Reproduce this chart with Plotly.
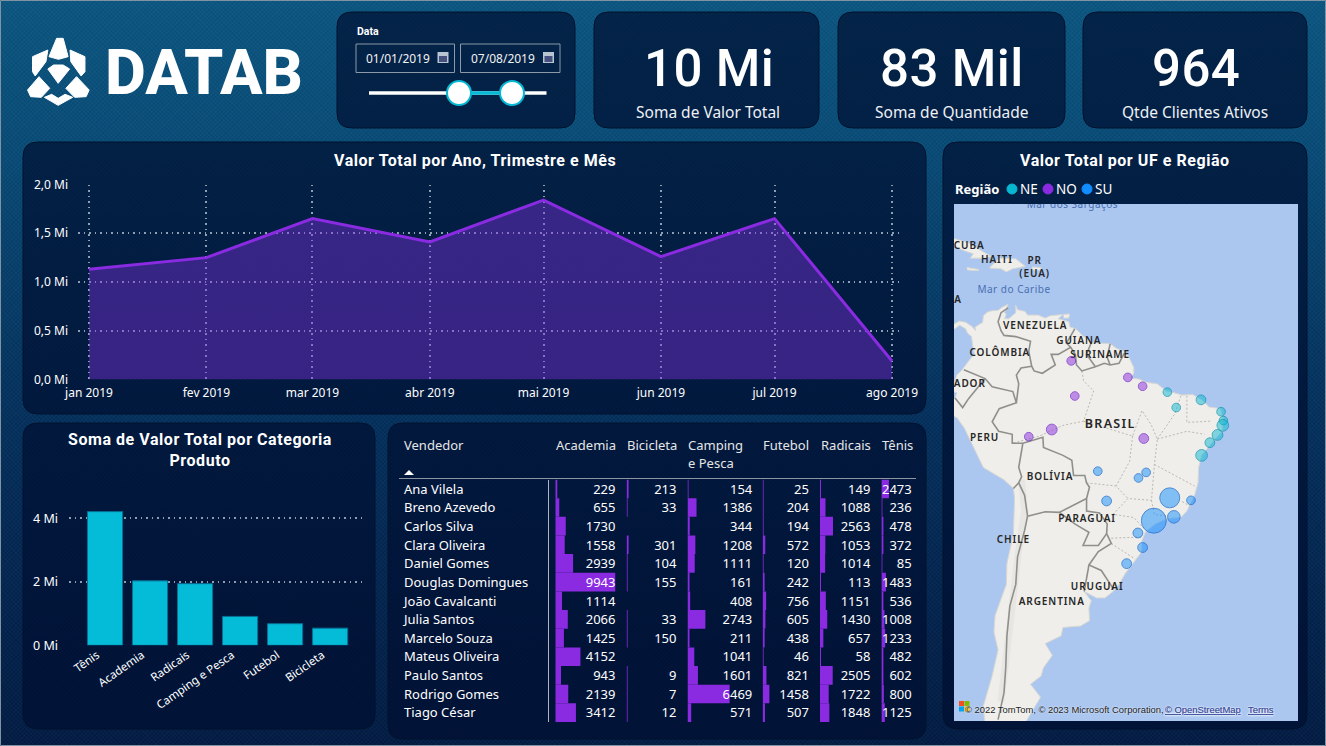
import numpy as np
import plotly.graph_objects as go

W, H = 1326, 746
DIN = "Roboto"
BODY = "Noto Sans"

# ---- data ----
month_dates = ["2019-01-01", "2019-02-01", "2019-03-01", "2019-04-01", "2019-05-01", "2019-06-01", "2019-07-01", "2019-08-01"]
month_labels = ["jan 2019", "fev 2019", "mar 2019", "abr 2019", "mai 2019", "jun 2019", "jul 2019", "ago 2019"]
month_values = [1.13, 1.25, 1.65, 1.41, 1.84, 1.26, 1.65, 0.19]

categories = ["Tênis", "Academia", "Radicais", "Camping e Pesca", "Futebol", "Bicicleta"]
category_values = [4.21, 2.03, 1.94, 0.91, 0.68, 0.54]

vendors = ["Ana Vilela", "Breno Azevedo", "Carlos Silva", "Clara Oliveira", "Daniel Gomes", "Douglas Domingues",
           "João Cavalcanti", "Julia Santos", "Marcelo Souza", "Mateus Oliveira", "Paulo Santos", "Rodrigo Gomes", "Tiago César"]
academia = [229, 655, 1730, 1558, 2939, 9943, 1114, 2066, 1425, 4152, 943, 2139, 3412]
bicicleta = [213, 33, None, 301, 104, 155, None, 33, 150, None, 9, 7, 12]
camping = [154, 1386, 344, 1208, 1111, 161, 408, 2743, 211, 1041, 1601, 6469, 571]
futebol = [25, 204, 194, 572, 120, 242, 756, 605, 438, 46, 821, 1458, 507]
radicais = [149, 1088, 2563, 1053, 1014, 113, 1151, 1430, 657, 58, 2505, 1722, 1848]
tenis = [2473, 236, 478, 372, 85, 1483, 536, 1008, 1233, 482, 602, 800, 1125]
table_max = 9943

no_lon = [-60.6, -51.0, -48.5, -60.0, -63.9, -67.8, -48.3]
no_lat = [2.9, 0.1, -1.4, -3.05, -8.7, -9.9, -10.2]
no_val = [360, 360, 360, 360, 560, 360, 460]
ne_lon = [-44.3, -38.6, -42.8, -35.2, -34.8, -34.9, -35.8, -37.1, -38.5]
ne_lat = [-2.4, -3.7, -5.0, -5.7, -7.2, -8.0, -9.6, -10.9, -13.0]
ne_val = [360, 460, 360, 360, 360, 660, 560, 460, 660]
su_lon = [-56.1, -49.2, -47.9, -54.6, -43.9, -40.3, -43.2, -46.6, -49.3, -48.5, -51.2]
su_lat = [-15.6, -16.7, -15.8, -20.4, -19.9, -20.3, -22.9, -23.5, -25.4, -27.6, -30.0]
su_val = [360, 360, 360, 460, 1920, 360, 760, 3000, 460, 460, 460]

# map outlines, lon / lat
land_lon = [-80.5, -79.5, -78.5, -77.4, -76.8, -76.9, -75.6, -75.5, -74.8, -74.2, -73, -72.3, -71.3, -71.6, -71.9, -71.6, -71.9, -71.2, -70.0, -70, -69.7, -68.4, -68, -66.2, -65, -64.2, -62, -62.8, -61, -60.8, -59.8, -58.5, -58, -57.2, -55.9, -54, -52.9, -51.8, -51, -50, -50, -50.5, -49, -48, -46, -44.5, -43.5, -41.8, -40, -38.5, -37.2, -35.3, -34.8, -35, -36.4, -37.3, -38.5, -39, -39.1, -39.7, -40.5, -41, -42, -43.5, -44.7, -46.3, -48, -48.6, -48.7, -50, -51.5, -52.5, -53.5, -54.9, -56.3, -58.4, -57.2, -57.6, -57.5, -59, -62, -62.3, -65, -63.8, -65.3, -65.7, -67.5, -65.8, -67.5, -69, -68.5, -70, -75, -75.5, -74, -73, -73.7, -73.5, -71.6, -71.5, -70.4, -70.2, -70.4, -72, -75.5, -77, -78.7, -79.9, -81.2, -81.3, -80.3, -80, -81, -80.5, -80, -79, -78.8, -77.5, -77, -77.3, -77.5, -78.2, -78.5, -79.5, -80.5, None,
            -80.5, -78, -75.5, -74.2, -75, -77.7, -77.2, -78.5, -80.5, None,
            -78.3, -76.3, -76.3, -78.2, None,
            -74.4, -72.8, -70, -68.4, -70.5, -71.6, -72.5, -74.4, None,
            -67.2, -65.7, -65.8, -67.2, None,
            -61.9, -60.9, -61, -61.9]
land_lat = [9.1, 9.6, 9.4, 8.7, 8.0, 8.6, 9.4, 10.5, 11.1, 11.3, 11.4, 11.9, 12.4, 11.6, 11.0, 10.8, 10.0, 10.0, 11.0, 12.2, 11.5, 11.2, 10.6, 10.6, 10.1, 10.5, 10.7, 10.0, 9.5, 8.6, 8.3, 7.0, 6.8, 6.0, 5.9, 5.8, 5.0, 4.6, 3.9, 1.8, 0.8, 0, -0.2, -0.7, -1.0, -2.2, -2.4, -2.9, -2.8, -3.7, -4.9, -5.2, -7, -9, -10.5, -11.5, -13, -15, -17.5, -19.5, -21.2, -22, -23, -23.1, -23.3, -24, -25.2, -26.5, -28.3, -29.8, -31.5, -33, -34, -34.9, -34.9, -34, -35.3, -36.3, -38, -38.7, -38.9, -40, -41, -42.5, -44, -45, -46, -47.5, -49.3, -51, -52.5, -53, -52, -48.5, -45, -41.8, -39.5, -37.3, -33, -30, -25.5, -20, -18.4, -17, -15, -12, -8.5, -6.8, -6, -4.5, -3.4, -2.5, -2.2, -1, 0.5, 1.5, 1.8, 3.5, 4, 5.5, 7, 7.6, 8.3, 8.9, 8.2, None,
            23, 22.3, 20.9, 20.2, 19.9, 19.9, 20.6, 21, 21.8, None,
            18.4, 18.1, 17.9, 18.0, None,
            18.4, 19.9, 19.8, 18.6, 18.2, 17.7, 18.2, 18.3, None,
            18.5, 18.4, 18, 18, None,
            10.7, 10.8, 10.1, 10.1]
border_lon = [-71.3, -72.5, -73, -72.5, -72, -70, -67.5, -67.8, -67.3, -66.9, -65.5, -64, -63.3, -64, -62.8, -60.7, -59.9, -59.7, -58.8, -56.5, -55, -54, -52.5, -51.6, None,
              -60.7, -61.4, -60, None, -57.2, -58, -56.5, None, -54, -54.5, -54, None,
              -78.8, -75.2, -74, -70.5, -69.9, -72.8, -74, -72.9, -70.6, -70.6, -68.8, -65.4, -65.3, -62, -60.5, -60.2, -58.3, -58, -57.5, -58, -58, -55.8, -54.5, -54.6, -53.8, -56, -57.6, -55.5, -53.4, None,
              -69.9, -69.5, -69.9, -69.1, -67.3, None,
              -80.3, -79, -78, -75.2, None,
              -68.8, -69.5, -69, -69.5, -70.4, None, -69.5, -68.5, -68, None,
              -58, -62.6, -60, -57.6, -58.6, -56, -54.6, None, -68, -65, -62.6, None,
              -68, -68.5, -69.7, -70, -71, -71.5, -71.7, -72, -73, None, -57.6, -58.2, -58.4]
border_lat = [11.8, 11, 9.5, 8, 7.2, 7, 6.2, 4.5, 2, 1.2, 0.8, 1.8, 2.2, 4, 4, 5.2, 4, 2.2, 1.2, 1.9, 2.5, 2.2, 2.5, 4.2, None,
              5.2, 5.9, 8.3, None, 6, 4, 1.9, None, 5.8, 3.5, 2.2, None,
              1.4, -0.1, -1.5, -2.3, -4.2, -5.2, -7.4, -9, -9.5, -11, -11, -10, -11.7, -13, -13.8, -16.3, -16.3, -17.5, -18.2, -20, -22, -22.3, -24, -25.5, -27, -28.2, -30.2, -31, -33.7, None,
              -4.2, -1, 0.5, 1.7, 2, None,
              -3.4, -5, -3.5, -0.1, None,
              -11, -15, -16.5, -17.5, -18.4, None, -17.5, -19.5, -22.8, None,
              -20, -22.2, -24, -25.3, -27.3, -27.3, -25.5, None, -22.8, -22.1, -22.2, None,
              -22.8, -25, -29, -33, -36, -40, -44, -47, -50, None, -30.2, -33.5, -34]
state_lon = [-58.8, -58.5, -56.8, -58.5, -62, -66, -70.6, None, -58.5, -50.2, -48.6, -47, -46, -46.5, -47, -51, -53.5, -50, -48.3, None,
             -50.2, -50.7, -53, -51, None, -58, -53, None, -47, -46.5, -44.5, None, -53.8, -48.6, None, -53.8, -49.8, None,
             -46.5, -39.7, None, -42, -43, -46, None, -41, -41, -37, None, -46, -41, -38, None, -41.8, -40.5, None]
state_lat = [1.2, -0.5, -2.2, -7.3, -8, -9.8, -11, None, -7.3, -9.8, -5.5, -8, -10.3, -14.5, -20.3, -20, -22.5, -23, -24.7, None,
             -9.8, -14, -18, -20, None, -17.5, -18, None, -20.3, -22.5, -22.8, None, -26.2, -26, None, -27, -29.3, None,
             -14.5, -18, None, -3, -6, -10.3, None, -3, -7.5, -7.3, None, -10.3, -9, -9.5, None, -20.5, -21.2, None]
# relief along the cordillera
andes_lon = [-69, -68.5, -69.5, -70.2, -70.8, -71.5, -72.5]
andes_lat = [-17, -22, -28, -33, -37, -42, -48]

label_text = ["CUBA", "HAITI", "PR<br>(EUA)", "A", "VENEZUELA", "GUIANA", "COLÔMBIA", "SURINAME", "ADOR", "PERU", "BOLÍVIA", "PARAGUAI", "CHILE", "URUGUAI", "ARGENTINA"]
label_lon = [-77.9, -73.2, -66.8, -79.8, -66.7, -59.3, -72.7, -55.7, -77.8, -75.3, -64.2, -57.9, -70.4, -56.2, -63.9]
label_lat = [21.8, 19.5, 18.4, 13.1, 8.7, 6.2, 4.2, 3.8, -1.1, -10.2, -16.7, -23.3, -26.5, -33.5, -35.5]
main_label = ["BRASIL"]
main_lon = [-54]
main_lat = [-7.9]
sea_text = ["Mar dos Sargaços", "Mar do Caribe"]
sea_lon = [-60.4, -70.3]
sea_lat = [28.1, 14.7]


def X(x):
    return x / W


def Y(y):
    return 1 - y / H


def dom_x(a, b):
    return [a / W, b / W]


def dom_y(top, bottom):
    return [1 - bottom / H, 1 - top / H]


def merc(lat):
    # Web Mercator northing, the map tile projection
    arr = np.array([np.nan if v is None else v for v in lat], dtype=float)
    return np.arcsinh(np.tan(np.radians(arr)))


def spaced(s, px):
    return f'<span style="letter-spacing:{px}px">{s}</span>'


def rounded(x0, y0, x1, y1, r=15):
    return (f"M {X(x0 + r)} {Y(y0)} L {X(x1 - r)} {Y(y0)} Q {X(x1)} {Y(y0)} {X(x1)} {Y(y0 + r)} "
            f"L {X(x1)} {Y(y1 - r)} Q {X(x1)} {Y(y1)} {X(x1 - r)} {Y(y1)} L {X(x0 + r)} {Y(y1)} "
            f"Q {X(x0)} {Y(y1)} {X(x0)} {Y(y1 - r)} L {X(x0)} {Y(y0 + r)} Q {X(x0)} {Y(y0)} {X(x0 + r)} {Y(y0)} Z")


shapes = []
annotations = []


def panel(x0, y0, x1, y1):
    shapes.append(dict(type="path", path=rounded(x0, y0, x1, y1), xref="paper", yref="paper", layer="below",
                       fillcolor="rgba(0,14,48,0.7)", line=dict(color="#00122c", width=1)))


def rect(x0, y0, x1, y1, fill="rgba(0,0,0,0)", line=None, width=1, layer="above"):
    shapes.append(dict(type="rect", xref="paper", yref="paper", x0=X(x0), x1=X(x1), y0=Y(y0), y1=Y(y1), layer=layer,
                       fillcolor=fill, line=dict(color=line or "rgba(0,0,0,0)", width=width if line else 0)))


def circle(cx, cy, r, fill, line=None, width=1):
    shapes.append(dict(type="circle", xref="paper", yref="paper", x0=X(cx - r), x1=X(cx + r), y0=Y(cy - r), y1=Y(cy + r),
                       fillcolor=fill, line=dict(color=line or fill, width=width)))


def hline(x0, x1, y, color, width=1):
    shapes.append(dict(type="line", xref="paper", yref="paper", x0=X(x0), x1=X(x1), y0=Y(y), y1=Y(y), line=dict(color=color, width=width)))


def txt(x, y, s, size=13, color="white", family=BODY, anchor="center", weight=None, **font_extra):
    font = dict(size=size, color=color, family=family, **font_extra)
    if weight:
        font["weight"] = weight
    annotations.append(dict(x=X(x), y=Y(y), xref="paper", yref="paper", text=s, showarrow=False, xanchor=anchor, yanchor="middle",
                            font=font, borderpad=0, align="center"))


fig = go.Figure()

# ---- panels ----
rect(0.5, 0.5, W - 0.5, H - 0.5, line="#7f93a3", layer="below")
for box in [(337, 12, 575, 128), (594, 12, 819, 128), (838, 12, 1065, 128), (1083, 12, 1307, 128),
            (23, 142, 926, 414), (943, 142, 1307, 729), (23, 423, 375, 729), (388, 423, 926, 739)]:
    panel(*box)

# ---- logo ----
logo_parts = [
    [(128, 170), (148, 115), (165, 115), (178, 170), (153, 178)],
    [(85, 170), (125, 150), (120, 185), (92, 228), (85, 215)],
    [(183, 150), (222, 170), (222, 215), (212, 228), (185, 185)],
    [(125, 207), (140, 195), (165, 195), (182, 207), (152, 250)],
    [(72, 270), (102, 230), (130, 265), (108, 292), (80, 290)],
    [(200, 230), (233, 270), (225, 290), (195, 292), (172, 265)],
    [(116, 292), (135, 283), (152, 295), (170, 283), (190, 292), (152, 316)],
]
for part in logo_parts:
    path = "M " + " L ".join(f"{X(px / 2.613)} {Y(py / 3)}" for px, py in part) + " Z"
    shapes.append(dict(type="path", path=path, xref="paper", yref="paper", fillcolor="white", line=dict(color="white", width=1)))
txt(104, 73, "DATAB", size=63, family=DIN, anchor="left", weight=800)

# ---- date slicer ----
txt(356, 31, "Data", size=10.5, family=DIN, anchor="left", weight=700)
for x0, x1, label in [(356, 454.5, "01/01/2019"), (460.5, 560, "07/08/2019")]:
    rect(x0, 44, x1, 72.5, line="#8c99a8")
    txt(x0 + 9, 58.5, label, size=12, family=BODY, anchor="left", color="#f2f2f2")
    rect(x1 - 17, 52, x1 - 6, 63, fill="#b8c4d0")
    rect(x1 - 15.5, 56, x1 - 7.5, 62, fill="#46507e")
hline(369, 546.5, 93, "white", 3.5)
hline(459, 512, 93, "#05b8d4", 3.5)
circle(459, 93, 12, "white", "#05b8d4", 2)
circle(512, 93, 12, "white", "#05b8d4", 2)

# ---- KPI cards ----
for cx, big, small in [(709, "10 Mi", "Soma de Valor Total"), (952, "83 Mil", "Soma de Quantidade"), (1196, "964", "Qtde Clientes Ativos")]:
    txt(cx, 68, spaced(big, 0.4), size=51, family=DIN, weight=500)
    txt(cx - 1, 112, small, size=15.5, color="#eef1f5")

# ---- line chart ----
fig.add_trace(go.Scatter(x=month_dates, y=month_values, mode="lines", fill="tozeroy", fillcolor="rgba(128,50,226,0.42)",
                         line=dict(color="#8a2be2", width=3), showlegend=False, hoverinfo="skip"))
txt(475, 160, spaced("Valor Total por Ano, Trimestre e Mês", 0.55), size=16, family=DIN, weight=700)

# ---- bar chart ----
fig.add_trace(go.Bar(x=categories, y=category_values, width=0.78, marker=dict(color="#04bcd8", line=dict(color="#076f94", width=1)),
                     xaxis="x2", yaxis="y2", showlegend=False, hoverinfo="skip"))
txt(200, 450, spaced("Soma de Valor Total por Categoria", 0.55) + "<br>" + spaced("Produto", 0.55), size=16, family=DIN, weight=700)

# ---- table ----
columns = [("Academia", academia, 555.3, 615.5), ("Bicicleta", bicicleta, 626.6, 676.5), ("Camping<br>e Pesca", camping, 687.5, 752.3),
           ("Futebol", futebol, 762.6, 809), ("Radicais", radicais, 820, 870.4), ("Tênis", tenis, 881.4, 911.7)]
table_axes = {}
for i, (name, values, left, right) in enumerate(columns):
    n = i + 4
    fig.add_trace(go.Bar(x=values, y=vendors, orientation="h", width=1, marker=dict(color="#8a2be2", line=dict(width=0)),
                         xaxis=f"x{n}", yaxis="y3", showlegend=False, hoverinfo="skip"))
    fig.add_trace(go.Scatter(x=[table_max] * len(vendors), y=vendors, mode="text", text=["" if v is None else str(v) for v in values],
                             textposition="middle left", textfont=dict(size=13, color="white", family=BODY), cliponaxis=False,
                             xaxis=f"x{n}", yaxis="y5", showlegend=False, hoverinfo="skip"))
    table_axes[f"xaxis{n}"] = dict(domain=dom_x(left, right), range=[0, table_max], visible=False, anchor="y3", fixedrange=True)
    lines = name.split("<br>")
    txt(left - 0.5, 445, lines[0], size=13, anchor="left", color="#e6e6e6")
    if len(lines) > 1:
        txt(left - 0.5, 463, lines[1], size=13, anchor="left", color="#e6e6e6")

fig.add_trace(go.Scatter(x=[0] * len(vendors), y=vendors, mode="text", text=vendors, textposition="middle right",
                         textfont=dict(size=13, color="white", family=BODY), cliponaxis=False,
                         xaxis="x3", yaxis="y5", showlegend=False, hoverinfo="skip"))
txt(403.5, 445, "Vendedor", size=13, anchor="left", color="#e6e6e6")
hline(399, 916, 478.5, "#8d95a3", 1)
shapes.append(dict(type="line", xref="paper", yref="paper", x0=X(548.5), x1=X(548.5), y0=Y(480), y1=Y(722), line=dict(color="#aeb4bf", width=1)))
shapes.append(dict(type="path", path=f"M {X(404)} {Y(475)} L {X(414)} {Y(475)} L {X(409)} {Y(470)} Z", xref="paper", yref="paper", fillcolor="white", line=dict(width=0)))

# ---- map ----
rect(954, 204, 1298, 721, fill="#abc7f0", layer="below")
fig.add_trace(go.Scatter(x=land_lon, y=merc(land_lat), mode="lines", fill="toself", fillcolor="#efeeea", line=dict(color="#d9d8d3", width=1),
                         xaxis="x10", yaxis="y4", showlegend=False, hoverinfo="skip", connectgaps=False))
fig.add_trace(go.Scatter(x=andes_lon, y=merc(andes_lat), mode="lines", line=dict(color="rgba(90,90,80,0.05)", width=7),
                         xaxis="x10", yaxis="y4", showlegend=False, hoverinfo="skip"))
fig.add_trace(go.Scatter(x=state_lon, y=merc(state_lat), mode="lines", line=dict(color="#b9b8b3", width=1, dash="2px,2px"),
                         xaxis="x10", yaxis="y4", showlegend=False, hoverinfo="skip"))
fig.add_trace(go.Scatter(x=border_lon, y=merc(border_lat), mode="lines", line=dict(color="#8f8f8c", width=1.6),
                         xaxis="x10", yaxis="y4", showlegend=False, hoverinfo="skip"))
fig.add_trace(go.Scatter(x=sea_lon, y=merc(sea_lat), mode="text", text=[spaced(s, 0.5) for s in sea_text],
                         textfont=dict(size=10, color="#4a6fb0", family=BODY),
                         xaxis="x10", yaxis="y4", showlegend=False, hoverinfo="skip"))
fig.add_trace(go.Scatter(x=label_lon, y=merc(label_lat), mode="text", text=[spaced(s, 0.9) for s in label_text],
                         textfont=dict(size=10, color="#262626", family=BODY, weight=600),
                         xaxis="x10", yaxis="y4", showlegend=False, hoverinfo="skip"))
fig.add_trace(go.Scatter(x=main_lon, y=merc(main_lat), mode="text", text=[spaced(s, 1.3) for s in main_label],
                         textfont=dict(size=12.5, color="#262626", family=BODY, weight=600),
                         xaxis="x10", yaxis="y4", showlegend=False, hoverinfo="skip"))
for name, lon, lat, val, fill, edge in [("NO", no_lon, no_lat, no_val, "rgba(138,43,226,0.7)", "#6a1fc0"),
                                        ("NE", ne_lon, ne_lat, ne_val, "rgba(6,184,208,0.7)", "#078da8"),
                                        ("SU", su_lon, su_lat, su_val, "rgba(17,141,255,0.7)", "#0b62c4")]:
    fig.add_trace(go.Scatter(x=lon, y=merc(lat), mode="markers", name=name, xaxis="x10", yaxis="y4", showlegend=False, hoverinfo="skip",
                             marker=dict(size=val, sizemode="area", sizeref=9.6, color=fill, line=dict(color=edge, width=1))))
txt(1125, 160, spaced("Valor Total por UF e Região", 0.55), size=16, family=DIN, weight=700)
txt(954, 189, "Região", size=13, anchor="left", weight=700)
for cx, code, color in [(1012, "NE", "#06b8d0"), (1048, "NO", "#8a2be2"), (1087, "SU", "#118dff")]:
    circle(cx, 189, 5, color)
    txt(cx + 7, 189, code, size=13.5, anchor="left")

# tile attribution
for x0, y0, color in [(959, 701, "#f25022"), (964.5, 701, "#7fba00"), (959, 706.5, "#00a4ef"), (964.5, 706.5, "#ffb900")]:
    rect(x0, y0, x0 + 5, y0 + 5, fill=color)
halo = "0px 0px 2px white"
txt(964, 709, "© 2022 TomTom, © 2023 Microsoft Corporation,", size=9.4, family="Liberation Sans", anchor="left", color="#222222", shadow=halo)
txt(1164, 709, "© OpenStreetMap", size=9.4, family="Liberation Sans", anchor="left", color="#3b4c9b", lineposition="under", shadow=halo)
txt(1247, 709, "Terms", size=9.4, family="Liberation Sans", anchor="left", color="#3b4c9b", lineposition="under", shadow=halo)

# ---- axes ----
dots = "1.5px,4px"
grid = "rgba(220,230,240,0.65)"
fig.update_layout(
    width=W, height=H, autosize=False, margin=dict(l=0, r=0, t=0, b=0, pad=0),
    paper_bgcolor="rgba(0,0,0,0)", plot_bgcolor="rgba(0,0,0,0)", separators=",.",
    showlegend=False, shapes=shapes, annotations=annotations,
    xaxis=dict(domain=dom_x(78, 903), type="date", range=["2018-12-29 02:30", "2019-08-03 21:30"], tickvals=month_dates, ticktext=month_labels,
               showgrid=True, gridcolor=grid, griddash=dots, gridwidth=1.5, zeroline=False, ticks="", anchor="y", ticklabelstandoff=4,
               tickfont=dict(size=12, color="white", family=BODY), tickangle=0, automargin=False),
    yaxis=dict(domain=dom_y(184.5, 379.5), range=[0, 2], dtick=0.5, tickformat=".1f", ticksuffix=" Mi", showgrid=True,
               gridcolor=grid, griddash=dots, gridwidth=1.5, zeroline=False, ticks="", ticklabelstandoff=9, anchor="x",
               tickfont=dict(size=12, color="white", family=BODY), automargin=False),
    xaxis2=dict(domain=dom_x(69, 363), type="category", range=[-0.8, 5.73], anchor="y2", showgrid=False, zeroline=False, ticks="",
                tickangle=-35, ticklabelshift=-8, tickfont=dict(size=11.5, color="white", family=BODY), automargin=False,
                categoryorder="array", categoryarray=categories),
    yaxis2=dict(domain=dom_y(502.4, 645.3), range=[0, 4.5], tick0=0, dtick=2, ticksuffix=" Mi", tickformat=".0f", showgrid=True,
                gridcolor=grid, griddash=dots, gridwidth=1.5, zeroline=False, ticks="", ticklabelstandoff=10, anchor="x2",
                tickfont=dict(size=12.5, color="white", family=BODY), automargin=False),
    xaxis3=dict(domain=dom_x(404, 548), range=[0, 1], visible=False, anchor="y3"),
    yaxis3=dict(domain=dom_y(479.5, 722), type="category", range=[12.5, -0.5], visible=False, anchor="x3",
                categoryorder="array", categoryarray=vendors),
    # same rows as yaxis3, nudged so the row text sits on the bar centre
    yaxis5=dict(domain=dom_y(481, 723.5), type="category", range=[12.5, -0.5], visible=False, anchor="x3",
                categoryorder="array", categoryarray=vendors),
    xaxis10=dict(domain=dom_x(954, 1298), range=[-80.47, -22.16], visible=False, anchor="y4"),
    yaxis4=dict(domain=dom_y(204, 721), range=[-1.0148, 0.5148], visible=False, anchor="x10"),
    **table_axes,
)

# page background: gradient + fine checker texture, body margin off
page_css = """
var s = document.body.style;
s.margin = '0';
s.overflow = 'hidden';
s.background = 'repeating-linear-gradient(45deg, rgba(255,255,255,0.014) 0 1.5px, rgba(0,0,0,0.014) 1.5px 3px), repeating-linear-gradient(-45deg, rgba(255,255,255,0.014) 0 1.5px, rgba(0,0,0,0.014) 1.5px 3px), linear-gradient(180deg, #0a5580 0%, #074a76 20%, #03305c 55%, #011a42 100%)';
"""
fig.write_html("out.html", config=dict(displayModeBar=False), post_script=page_css)
